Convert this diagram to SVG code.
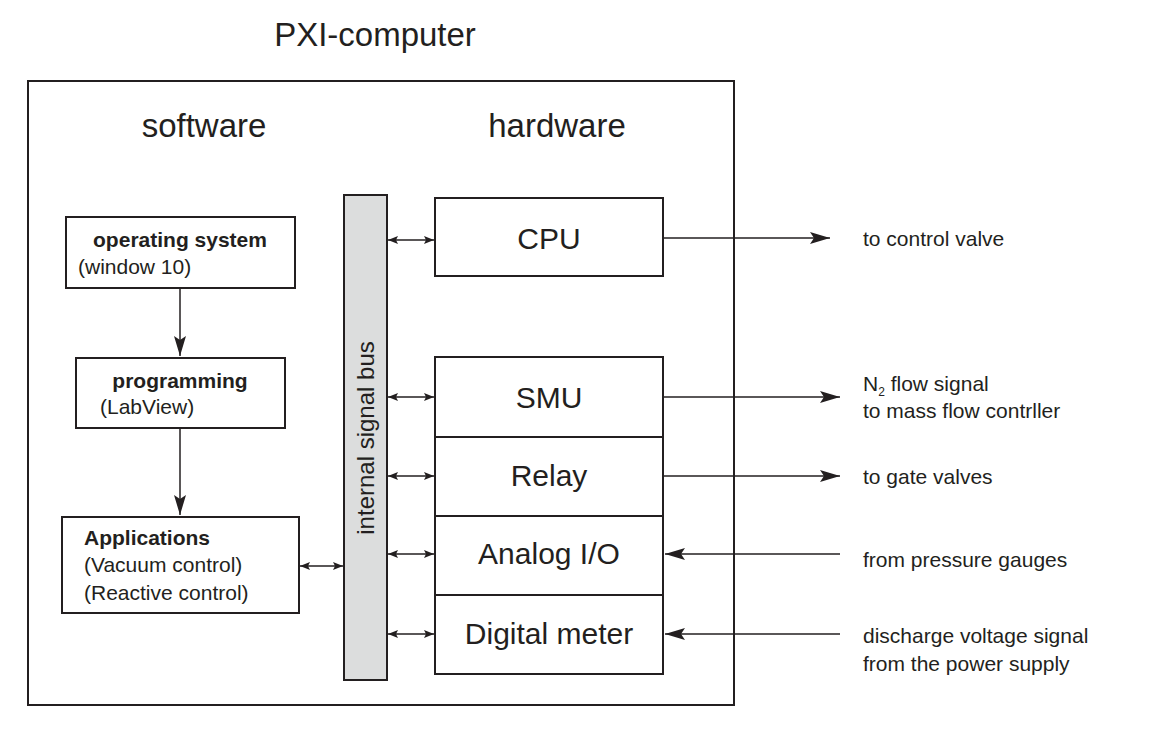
<svg xmlns="http://www.w3.org/2000/svg" width="1155" height="732" viewBox="0 0 1155 732">
<style>
text{font-family:"Liberation Sans",Arial,sans-serif;fill:#231f20}
.b{fill:none;stroke:#231f20;stroke-width:2}
.l{stroke:#231f20;stroke-width:1.5;fill:none}
.h{font-size:33px}
.n{font-size:21px}
.s{font-size:30px}
</style>
<defs>
<marker id="big" viewBox="0 0 20 12" refX="20" refY="6" markerWidth="20" markerHeight="12" markerUnits="userSpaceOnUse" orient="auto"><path d="M0,0L20,6L0,12L4,6Z" fill="#231f20"/></marker>
<marker id="sm" viewBox="0 0 10 8" refX="10" refY="4" markerWidth="10" markerHeight="8" markerUnits="userSpaceOnUse" orient="auto-start-reverse"><path d="M0,0L10,4L0,8L2,4Z" fill="#231f20"/></marker>
<marker id="mid" viewBox="0 0 12 16" refX="6" refY="16" markerWidth="12" markerHeight="16" markerUnits="userSpaceOnUse" orient="auto"><path d="M0,0L6,16L12,0L6,4Z" fill="#231f20" transform="rotate(-90 6 8) rotate(90 6 8)"/></marker>
</defs>
<text x="375" y="46" text-anchor="middle" class="h">PXI-computer</text>
<rect x="28" y="81" width="706" height="624" class="b"/>
<text x="204" y="137" text-anchor="middle" class="h">software</text>
<text x="557" y="137" text-anchor="middle" class="h">hardware</text>
<g id="os"><rect x="66" y="217" width="229" height="71" class="b"/><text x="180" y="247" text-anchor="middle" class="n" font-weight="bold">operating system</text><text x="78" y="274" class="n">(window 10)</text></g>
<g id="prog"><rect x="76" y="358" width="209" height="70" class="b"/><text x="180" y="388" text-anchor="middle" class="n" font-weight="bold">programming</text><text x="100" y="414" class="n">(LabView)</text></g>
<g id="apps"><rect x="62" y="517" width="237" height="96" class="b"/><text x="84" y="545" class="n" font-weight="bold">Applications</text><text x="84" y="572" class="n">(Vacuum control)</text><text x="84" y="600" class="n">(Reactive control)</text></g>
<g id="bus"><rect x="344" y="195" width="43" height="485" fill="#dcdddd" stroke="#231f20" stroke-width="2"/><text transform="translate(374 438) rotate(-90)" text-anchor="middle" font-size="24">internal signal bus</text></g>
<g id="cpu"><rect x="435" y="198" width="228" height="78" class="b"/><text x="549" y="249" text-anchor="middle" class="s">CPU</text></g>
<g id="smu"><rect x="435" y="357" width="228" height="80" class="b"/><text x="549" y="408" text-anchor="middle" class="s">SMU</text></g>
<g id="relay"><rect x="435" y="437" width="228" height="79" class="b"/><text x="549" y="486" text-anchor="middle" class="s">Relay</text></g>
<g id="aio"><rect x="435" y="516" width="228" height="79" class="b"/><text x="549" y="564" text-anchor="middle" class="s">Analog I/O</text></g>
<g id="dm"><rect x="435" y="595" width="228" height="79" class="b"/><text x="549" y="644" text-anchor="middle" class="s">Digital meter</text></g>
<g id="connectors">
<line x1="180" y1="289" x2="180" y2="356" class="l" marker-end="url(#big)"/>
<line x1="180" y1="429" x2="180" y2="515" class="l" marker-end="url(#big)"/>
<line x1="300" y1="566" x2="343" y2="566" class="l" marker-start="url(#sm)" marker-end="url(#sm)"/>
<line x1="388" y1="240" x2="434" y2="240" class="l" marker-start="url(#sm)" marker-end="url(#sm)"/>
<line x1="388" y1="397" x2="434" y2="397" class="l" marker-start="url(#sm)" marker-end="url(#sm)"/>
<line x1="388" y1="476" x2="434" y2="476" class="l" marker-start="url(#sm)" marker-end="url(#sm)"/>
<line x1="388" y1="554" x2="434" y2="554" class="l" marker-start="url(#sm)" marker-end="url(#sm)"/>
<line x1="388" y1="634" x2="434" y2="634" class="l" marker-start="url(#sm)" marker-end="url(#sm)"/>
<line x1="664" y1="238" x2="830" y2="238" class="l" marker-end="url(#big)"/>
<line x1="664" y1="397" x2="840" y2="397" class="l" marker-end="url(#big)"/>
<line x1="664" y1="476" x2="840" y2="476" class="l" marker-end="url(#big)"/>
<line x1="840" y1="554" x2="665" y2="554" class="l" marker-end="url(#big)"/>
<line x1="840" y1="634" x2="665" y2="634" class="l" marker-end="url(#big)"/>
</g>
<g class="n">
<text x="863" y="246" class="n">to control valve</text>
<text x="863" y="391" class="n">N<tspan font-size="12" dy="5">2</tspan><tspan dy="-5"> flow signal</tspan></text>
<text x="863" y="418" class="n">to mass flow contrller</text>
<text x="863" y="484" class="n">to gate valves</text>
<text x="863" y="567" class="n">from pressure gauges</text>
<text x="863" y="643" class="n">discharge voltage signal</text>
<text x="863" y="671" class="n">from the power supply</text>
</g>
</svg>
